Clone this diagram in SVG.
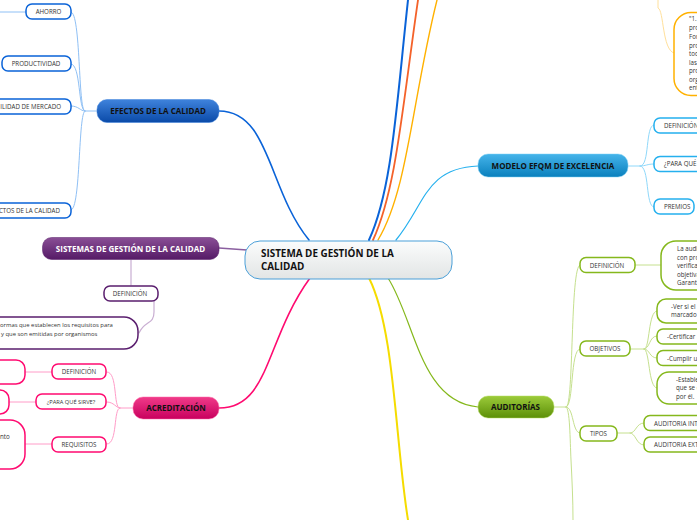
<svg xmlns="http://www.w3.org/2000/svg" width="697" height="520" viewBox="0 0 697 520">
<defs>
<linearGradient id="gc" x1="0" y1="0" x2="0" y2="1"><stop offset="0" stop-color="#fbfcfc"/><stop offset="1" stop-color="#e2e5e5"/></linearGradient>
<linearGradient id="gb" x1="0" y1="0" x2="0" y2="1"><stop offset="0" stop-color="#3f83dc"/><stop offset="1" stop-color="#0a4aa8"/></linearGradient>
<linearGradient id="gp" x1="0" y1="0" x2="0" y2="1"><stop offset="0" stop-color="#8a4f96"/><stop offset="1" stop-color="#551a66"/></linearGradient>
<linearGradient id="gm" x1="0" y1="0" x2="0" y2="1"><stop offset="0" stop-color="#f03b89"/><stop offset="1" stop-color="#c8005e"/></linearGradient>
<linearGradient id="gs" x1="0" y1="0" x2="0" y2="1"><stop offset="0" stop-color="#45b4ea"/><stop offset="1" stop-color="#0a80bd"/></linearGradient>
<linearGradient id="gg" x1="0" y1="0" x2="0" y2="1"><stop offset="0" stop-color="#9ccb3a"/><stop offset="1" stop-color="#5c8f08"/></linearGradient>
</defs>
<style>
text{font-family:"Open Sans","Noto Sans","DejaVu Sans",sans-serif;font-size:6.2px;fill:#333}
.t{font-size:8px;font-weight:700;fill:#111}
.n{fill:#fff;stroke-width:1.5}
.c{fill:none}
.bl{stroke:#0a63d8}.pu{stroke:#5a1e6e}.mg{stroke:#ff0a70}.sk{stroke:#25b0ee}.gr{stroke:#85b81c}.or{stroke:#ffb100}
.lbl{stroke:#8fc0f5}.lpu{stroke:#c9aed2}.lmg{stroke:#ff9cc8}.lsk{stroke:#8fd8fa}.lgr{stroke:#c5e08e}.lor{stroke:#ffe09a}
</style>
<g id="connectors" class="c" fill="none" stroke-linecap="round">
<path class="c bl" stroke-width="1.6" d="M219 111C270 111 268 190 309 240"/>
<path class="c bl" stroke-width="2" d="M369 240C392 190 396 110 408 0"/>
<path class="c" stroke="#f4622a" stroke-width="1.8" d="M373 240C396 190 402 110 418 0"/>
<path class="c or" stroke-width="1.4" d="M378 240C408 190 412 100 437 0"/>
<path class="c sk" stroke-width="1.2" d="M396 240C425 205 425 168 478 166"/>
<path class="c" stroke="#8b5fa0" stroke-width="1.3" d="M219 248L247 250"/>
<path class="c mg" stroke-width="1.6" d="M219 408C270 408 265 340 310 278"/>
<path class="c" stroke="#f5dc00" stroke-width="2" d="M369 278C395 330 395 440 408 520"/>
<path class="c gr" stroke-width="1.2" d="M388 278C415 320 420 402 478 407"/>
<path class="c lbl" stroke-width="1" d="M97 111H85C78 111 81 12 71 12M85 111C78 111 81 64 71 64M85 111C80 111 79 106 71 106M85 111C78 111 81 210 71 210"/>
<path class="c lbl" stroke-width="1" d="M26 12H0"/>
<path class="c lpu" stroke-width="1.2" d="M131 260V285M154 301V312C154 325 145 320 139 333"/>
<path class="c lmg" stroke-width="1" d="M133 408H120C113 408 118 372 107 372M120 408C116 408 114 402 107 402M120 408C113 408 118 444 107 444"/>
<path class="c lmg" stroke-width="1" d="M52 372H25M36 402H9M52 444H25"/>
<path class="c lsk" stroke-width="1" d="M628 166H640C650 166 645 125 654 125M640 166C646 166 647 164 654 164M640 166C650 166 645 207 654 207"/>
<path class="c lgr" stroke-width="1" d="M554 407H566C574 407 570 265 580 265M566 407C574 407 570 349 580 349M566 407C574 407 572 433 580 433M566 407C570 407 570 440 571 460S573 500 573 520"/>
<path class="c lgr" stroke-width="1" d="M630 349H644C650 349 648 311 657 311M644 349C650 349 649 336 657 336M644 349C650 349 649 358 657 358M644 349C650 349 648 388 657 388"/>
<path class="c lgr" stroke-width="1" d="M617 433H630C636 433 636 423 644 423M630 433C636 433 636 445 644 445"/>
<path class="c lgr" stroke-width="1" d="M635 265H661"/>
<path class="c lor" stroke-width="1" d="M658 0V8C664 10 662 50 674 53"/>
</g>
<g id="central"><rect x="245" y="241" width="207" height="38" rx="15" fill="url(#gc)" stroke="#4a9fd8"/><text class="t" x="261" y="257" style="font-size:9.900px">SISTEMA DE GESTIÓN DE LA</text><text class="t" x="261" y="270" style="font-size:9.900px">CALIDAD</text></g>
<g id="efectos"><rect x="97" y="99.500" width="122" height="23" rx="10" fill="url(#gb)" stroke="#3f83dc" stroke-width=".5"/><text class="t" x="158" y="114" text-anchor="middle">EFECTOS DE LA CALIDAD</text></g>
<g id="ahorro"><rect class="n bl" x="26" y="4" width="45" height="15" rx="6"/><text x="48.500" y="14" text-anchor="middle">AHORRO</text></g>
<g id="productividad"><rect class="n bl" x="2" y="56" width="69" height="15" rx="6"/><text x="36" y="66" text-anchor="middle">PRODUCTIVIDAD</text></g>
<g id="mercado"><rect class="n bl" x="-40" y="99" width="111" height="15" rx="6"/><text x="61" y="109" text-anchor="end">ILIDAD DE MERCADO</text></g>
<g id="costos"><rect class="n bl" x="-40" y="203" width="111" height="15" rx="6"/><text x="60" y="213" text-anchor="end">CTOS DE LA CALIDAD</text></g>
<g id="sistemas"><rect x="42.500" y="237.500" width="176.500" height="22" rx="9" fill="url(#gp)" stroke="#551a66" stroke-width=".5"/><text class="t" x="130.500" y="252" text-anchor="middle" style="fill:#fff">SISTEMAS DE GESTIÓN DE LA CALIDAD</text></g>
<g id="sg-def"><rect class="n pu" x="104" y="286" width="54" height="15" rx="6"/><text x="130" y="296" text-anchor="middle">DEFINICIÓN</text></g>
<g id="sg-text"><rect class="n pu" x="-60" y="317" width="198" height="32" rx="14"/><text x="0" y="327" style="font-size:5.900px">ormas que establecen los requisitos para</text><text x="1" y="335.500" style="font-size:5.900px">y que son emitidas por organismos</text></g>
<g id="acreditacion"><rect x="133" y="397" width="86" height="22" rx="10" fill="url(#gm)" stroke="#ff6aa8" stroke-width=".5"/><text class="t" x="176" y="411" text-anchor="middle">ACREDITACIÓN</text></g>
<g id="ac-def"><rect class="n mg" x="52" y="364" width="54" height="15" rx="6"/><text x="79" y="374" text-anchor="middle">DEFINICIÓN</text></g>
<g id="ac-para"><rect class="n mg" x="36" y="394" width="70" height="15" rx="6"/><text x="71" y="404" text-anchor="middle" style="font-size:5.700px">¿PARA QUÉ SIRVE?</text></g>
<g id="ac-req"><rect class="n mg" x="52" y="437" width="54" height="15" rx="6"/><text x="79" y="447" text-anchor="middle">REQUISITOS</text></g>
<g id="ac-b1"><rect class="n mg" x="-40" y="360" width="65" height="24" rx="9"/></g>
<g id="ac-b2"><rect class="n mg" x="-40" y="390" width="49" height="24" rx="9"/></g>
<g id="ac-b3"><rect class="n mg" x="-40" y="420" width="65" height="49" rx="15"/><text x="0" y="439">nto</text></g>
<g id="efqm"><rect x="478" y="154" width="150" height="23" rx="10" fill="url(#gs)" stroke="#7fd0f5" stroke-width=".5"/><text class="t" x="553" y="169" text-anchor="middle">MODELO EFQM DE EXCELENCIA</text></g>
<g id="ef-def"><rect class="n sk" x="654" y="118" width="60" height="15" rx="6"/><text x="664" y="128">DEFINICIÓN</text></g>
<g id="ef-para"><rect class="n sk" x="654" y="156.500" width="60" height="15" rx="6"/><text x="664" y="166">¿PARA QUÉ S</text></g>
<g id="ef-prem"><rect class="n sk" x="654" y="199" width="40" height="15" rx="6"/><text x="664" y="209">PREMIOS</text></g>
<g id="or-top"><rect class="n or" x="674" y="12.500" width="60" height="83" rx="17"/><text x="689" y="21">"1.</text><text x="689" y="30">pro</text><text x="689" y="39">For</text><text x="689" y="48">pro</text><text x="689" y="56">tod</text><text x="689" y="65">las</text><text x="689" y="73">pro</text><text x="689" y="82">org</text><text x="689" y="90">ent</text></g>
<g id="auditorias"><rect x="478" y="396" width="76" height="22" rx="10" fill="url(#gg)" stroke="#b5dc60" stroke-width=".5"/><text class="t" x="515.500" y="410" text-anchor="middle">AUDITORÍAS</text></g>
<g id="au-def"><rect class="n gr" x="580" y="257.500" width="55" height="15" rx="6"/><text x="607" y="268" text-anchor="middle">DEFINICIÓN</text></g>
<g id="au-text"><rect class="n gr" x="661" y="241" width="60" height="49" rx="15"/><text x="677" y="251">La audi</text><text x="677" y="260">con pro</text><text x="677" y="268">verifica</text><text x="677" y="277">objetiva</text><text x="677" y="285">Garanti</text></g>
<g id="au-obj"><rect class="n gr" x="580" y="341" width="50" height="15" rx="6"/><text x="605" y="351" text-anchor="middle">OBJETIVOS</text></g>
<g id="au-o1"><rect class="n gr" x="657" y="299" width="60" height="24" rx="9"/><text x="671" y="309">-Ver si el</text><text x="671" y="317">marcado</text></g>
<g id="au-o2"><rect class="n gr" x="657" y="329" width="60" height="15" rx="6"/><text x="667" y="339">-Certificar</text></g>
<g id="au-o3"><rect class="n gr" x="657" y="350.500" width="60" height="15" rx="6"/><text x="667" y="360.500">-Cumplir u</text></g>
<g id="au-o4"><rect class="n gr" x="657" y="372" width="60" height="32" rx="12"/><text x="676" y="382">-Estable</text><text x="676" y="390">que se c</text><text x="676" y="399">por él.</text></g>
<g id="au-tipos"><rect class="n gr" x="580" y="426" width="37" height="15" rx="6"/><text x="598.500" y="436" text-anchor="middle">TIPOS</text></g>
<g id="au-int"><rect class="n gr" x="644" y="415.500" width="80" height="15" rx="6"/><text x="654" y="425.500">AUDITORIA INT</text></g>
<g id="au-ext"><rect class="n gr" x="644" y="437" width="80" height="15" rx="6"/><text x="654" y="447">AUDITORIA EXT</text></g>
</svg>
